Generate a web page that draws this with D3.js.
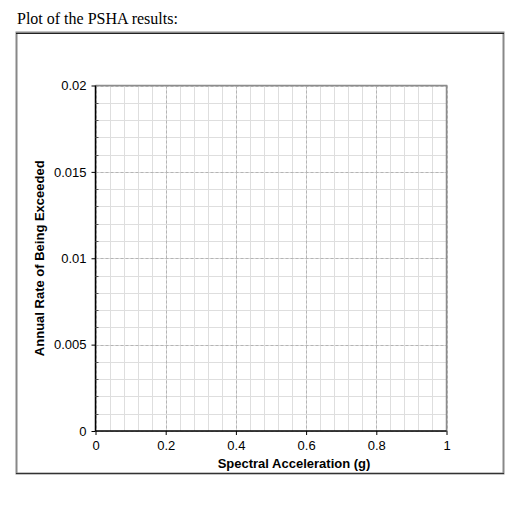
<!DOCTYPE html>
<html>
<head>
<meta charset="utf-8">
<script src="https://cdn.jsdelivr.net/npm/d3@7"></script>
<style>
  body { margin: 0; background: #fff; }
  svg text { font-family: "Liberation Sans", Arial, sans-serif; }
</style>
</head>
<body>
<div id="chart"></div>
<script>
const xTicks = [0, 0.2, 0.4, 0.6, 0.8, 1];
const yTicks = [0, 0.005, 0.01, 0.015, 0.02];
const xMinorStep = 0.04;
const yMinorStep = 0.001;
// hazard curve points (none plotted in the reference)
const saValues = [];
const rateValues = [];

const width = 526;
const height = 515;

const svg = d3.select('#chart')
  .append('svg')
  .attr('width', width)
  .attr('height', height);

svg.append('text')
  .attr('x', 17)
  .attr('y', 24)
  .style('font-family', '"Liberation Serif", "Times New Roman", serif')
  .style('font-size', '16px')
  .attr('fill', '#000')
  .text('Plot of the PSHA results:');

// outer frame
svg.append('rect')
  .attr('x', 16.5).attr('y', 32.5)
  .attr('width', 487).attr('height', 441)
  .attr('fill', 'none')
  .attr('stroke', '#888')
  .attr('stroke-width', 2);
svg.append('line')
  .attr('x1', 16).attr('x2', 504).attr('y1', 33.5).attr('y2', 33.5)
  .attr('stroke', '#222');
svg.append('line')
  .attr('x1', 16).attr('x2', 504).attr('y1', 473.5).attr('y2', 473.5)
  .attr('stroke', '#333');

const margin = { left: 95.5, top: 85.5, right: 446.5, bottom: 431 };

const x = d3.scaleLinear().domain([0, 1]).range([margin.left, margin.right]);
const y = d3.scaleLinear().domain([0, 0.02]).range([margin.bottom, margin.top]);

const xMinor = d3.range(0, 1 + 1e-9, xMinorStep);
const yMinor = d3.range(0, 0.02 + 1e-9, yMinorStep);

const grid = svg.append('g');

grid.selectAll('.vminor')
  .data(xMinor)
  .enter().append('line')
  .attr('x1', d => Math.round(x(d)) + 0.5)
  .attr('x2', d => Math.round(x(d)) + 0.5)
  .attr('y1', margin.top).attr('y2', margin.bottom)
  .attr('stroke', '#dedede');

grid.selectAll('.hminor')
  .data(yMinor)
  .enter().append('line')
  .attr('y1', d => Math.round(y(d)) + 0.5)
  .attr('y2', d => Math.round(y(d)) + 0.5)
  .attr('x1', margin.left).attr('x2', margin.right)
  .attr('stroke', '#dedede');

grid.selectAll('.vmajor')
  .data(xTicks)
  .enter().append('line')
  .attr('x1', d => Math.round(x(d)) + 0.5)
  .attr('x2', d => Math.round(x(d)) + 0.5)
  .attr('y1', margin.top).attr('y2', margin.bottom)
  .attr('stroke', '#b4b4b4')
  .attr('stroke-dasharray', '3 2');

grid.selectAll('.hmajor')
  .data(yTicks)
  .enter().append('line')
  .attr('y1', d => Math.round(y(d)) + 0.5)
  .attr('y2', d => Math.round(y(d)) + 0.5)
  .attr('x1', margin.left).attr('x2', margin.right)
  .attr('stroke', '#b4b4b4')
  .attr('stroke-dasharray', '3 2');

// plot area border (top / right)
svg.append('path')
  .attr('d', `M${margin.left},${margin.top}H${margin.right}V${margin.bottom}`)
  .attr('fill', 'none')
  .attr('stroke', '#8c8c8c')
  .attr('stroke-width', 1.5);

// hazard curve
const line = d3.line().x((d, i) => x(saValues[i])).y((d, i) => y(rateValues[i]));
svg.append('path')
  .datum(saValues)
  .attr('d', line)
  .attr('fill', 'none')
  .attr('stroke', '#000');

// axes
const xAxis = d3.axisBottom(x)
  .tickValues(xTicks)
  .tickSize(4)
  .tickFormat(d3.format('~g'));

const gx = svg.append('g')
  .attr('transform', `translate(0,${margin.bottom})`)
  .call(xAxis);
gx.select('.domain').attr('stroke', '#000').attr('stroke-width', 1.5).attr('d', `M${margin.left},0H${margin.right}`);
gx.selectAll('line').attr('stroke', '#000');
gx.selectAll('text')
  .attr('y', 10)
  .style('font-size', '13px')
  .attr('fill', '#000');

const yAxis = d3.axisLeft(y)
  .tickValues(yTicks)
  .tickSize(4)
  .tickPadding(5)
  .tickFormat(d3.format('~g'));

const gy = svg.append('g')
  .attr('transform', `translate(${margin.left},0)`)
  .call(yAxis);
gy.select('.domain').attr('stroke', '#000').attr('stroke-width', 1.5).attr('d', `M0,${margin.top}V${margin.bottom}`);
gy.selectAll('line').attr('stroke', '#000');
gy.selectAll('text')
  .style('font-size', '13px')
  .attr('fill', '#000');

// minor inner ticks on y axis
gy.selectAll('.minor')
  .data(yMinor.filter((d, i) => i % 5 !== 0))
  .enter().append('line')
  .attr('x1', 0).attr('x2', 3)
  .attr('y1', d => Math.round(y(d)) + 0.5)
  .attr('y2', d => Math.round(y(d)) + 0.5)
  .attr('stroke', '#555');

svg.append('text')
  .attr('x', 294)
  .attr('y', 468)
  .attr('text-anchor', 'middle')
  .style('font-size', '13px')
  .style('font-weight', 'bold')
  .text('Spectral Acceleration (g)');

svg.append('text')
  .attr('transform', `translate(44,${(margin.top + margin.bottom) / 2}) rotate(-90)`)
  .attr('text-anchor', 'middle')
  .style('font-size', '13px')
  .style('font-weight', 'bold')
  .text('Annual Rate of Being Exceeded');
</script>
</body>
</html>
